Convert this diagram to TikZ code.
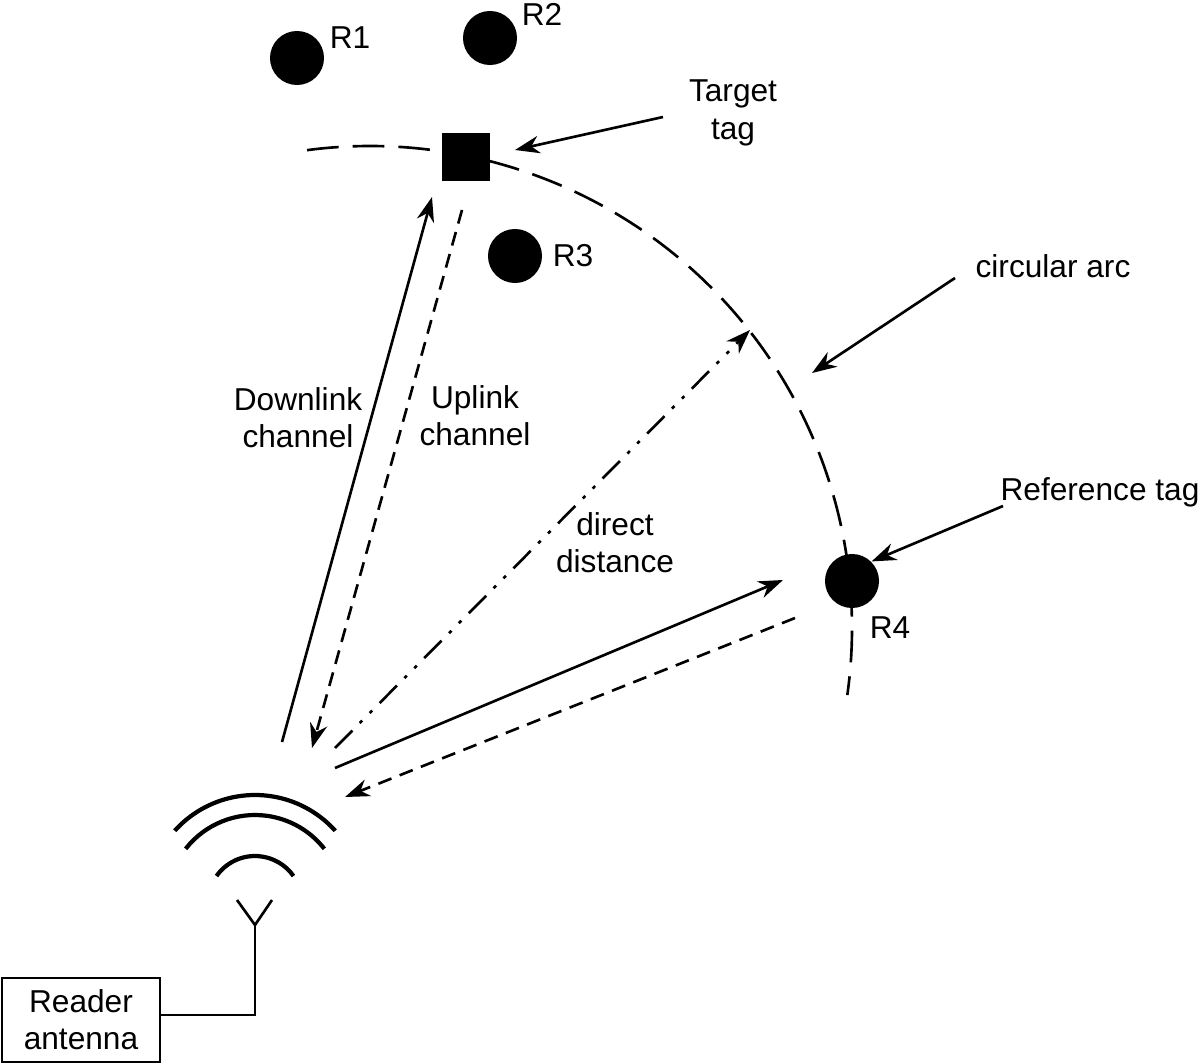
\documentclass[tikz,border=0pt]{standalone}
\usepackage{fontspec}
\setmainfont{Liberation Sans}
\usetikzlibrary{arrows.meta}
\tikzset{
    >={Stealth[length=7pt,width=5pt]},
    every node/.style={font=\fontsize{9}{10.6}\selectfont, align=center},
    tag/.style={circle, fill=black, inner sep=0pt, minimum size=0.54cm},
    link/.style={line width=0.75pt},
    pointer/.style={->, line width=0.75pt},
}
\begin{document}
\begin{tikzpicture}[x=0.01cm, y=-0.01cm]
    \useasboundingbox (0,0) rectangle (1200,1064);

    % --- Tags ---
    \node[tag] (r1) at (297,58) {};
    \node[tag] (r2) at (490,38) {};
    \node[tag] (r3) at (515,256) {};
    \node[tag] (r4) at (852,581) {};
    \node[fill=black, inner sep=0pt, minimum size=0.48cm] (target) at (466,157) {};
    \node (l1) at (350,38) {R1};
    \node (l2) at (542,14) {R2};
    \node (l3) at (573,256) {R3};
    \node (l4) at (890,628) {R4};

    % --- Circular arc ---
    \coordinate (arccenter) at (370,628);
    \draw[line width=0.75pt, dash pattern=on 9pt off 4pt]
        ([shift={(-97.5:482)}]arccenter) arc[start angle=-97.5, end angle=8, radius=482];

    % --- Labels ---
    \node (ltarget) at (733,113) {Target\\tag};
    \node (larc) at (1053,266) {circular arc};
    \node (lref) at (1100,492) {Reference tag};
    \node (ldown) at (298,418) {Downlink\\channel};
    \node (lup) at (475,416) {Uplink\\channel};
    \node (ldirect) at (615,543) {direct\\distance};

    % --- Channels ---
    \coordinate (d0) at (282,742);  \coordinate (d1) at (432,197);
    \coordinate (u0) at (462,210);  \coordinate (u1) at (312,748);
    \coordinate (m0) at (335,748);  \coordinate (m1) at (750,330);
    \coordinate (f0) at (335,768);  \coordinate (f1) at (783,580);
    \coordinate (b0) at (795,618);  \coordinate (b1) at (345,797);
    \draw[->, link] (d0) -- (d1);
    \draw[->, link, dash pattern=on 4pt off 2.5pt] (u0) -- (u1);
    \draw[->, link, dash pattern=on 7pt off 3pt on 1pt off 3pt on 1pt off 3pt] (m0) -- (m1);
    \draw[->, link] (f0) -- (f1);
    \draw[->, link, dash pattern=on 4pt off 2.5pt] (b0) -- (b1);

    % --- Pointers ---
    \coordinate (p1) at (663,117);  \coordinate (p1e) at (515,150);
    \coordinate (p2) at (955,278);  \coordinate (p2e) at (812,373);
    \coordinate (p3) at (1003,506);
    \draw[pointer] (p1) -- (p1e);
    \draw[pointer] (p2) -- (p2e);
    \draw[pointer] (p3) -- (r4.north east);

    % --- Reader antenna ---
    \coordinate (wave) at (255,903);
    \foreach \r/\a in {47/35, 88/38, 108/42}
        \draw[line width=1.2pt] ([shift={(180+\a:\r)}]wave) arc[start angle=180+\a, end angle=360-\a, radius=\r];
    \coordinate (yfoot) at (255,925);
    \coordinate (ybase) at (255,1015);
    \draw[link] (237,900) -- (yfoot) -- (272,900);
    \node[draw, line width=0.75pt, minimum width=1.58cm, minimum height=0.84cm, inner sep=1pt] (reader) at (81,1020) {Reader\\antenna};
    \draw[link] (yfoot) -- (ybase) -- (reader.east |- ybase);
\end{tikzpicture}
\end{document}
